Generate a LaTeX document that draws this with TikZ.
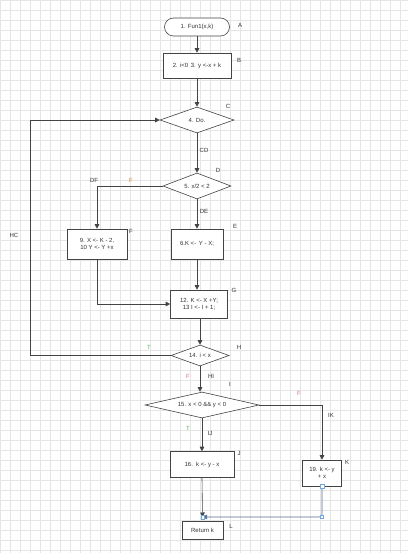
\documentclass[tikz,border=0pt]{standalone}
\usepackage{fontspec}
\setmainfont{Liberation Sans}
\usetikzlibrary{shapes.geometric,arrows.meta}
\definecolor{lineC}{HTML}{444444}
\definecolor{selC}{HTML}{5A6E8C}
\definecolor{handleC}{HTML}{6FA8DC}
\definecolor{fOrange}{HTML}{D9822B}
\definecolor{fPink}{HTML}{E06C8A}
\definecolor{tGreen}{HTML}{5CB85C}
\tikzset{
  every node/.style={font=\fontsize{6}{7}\selectfont, text=black!80},
  box/.style={draw=lineC, fill=white, rectangle, align=center, inner sep=1pt, line width=0.6pt},
  startbox/.style={box, rounded corners=9pt},
  dia/.style={diamond, draw=lineC, fill=white, inner sep=0pt, line width=0.6pt, aspect=2.8},
  lbl/.style={inner sep=0pt},
  arr/.style={draw=lineC, line width=0.6pt, -{Triangle[length=4.5pt,width=4.5pt]}},
  handle/.style={draw=handleC, fill=white, line width=0.4pt, minimum size=3.5pt, inner sep=0pt, rectangle}
}
\begin{document}
\begin{tikzpicture}[x=1pt,y=-1pt]
\useasboundingbox (0,0) rectangle (408,553);
\fill[white] (0,0) rectangle (408,553);
\draw[step=10pt, black!10, line width=0.35pt] (0,0) grid (408,553);

% nodes
\node[startbox, minimum width=65pt, minimum height=18pt] (A) at (197,27) {1. Fun1(x,k)};
\node[box, minimum width=68pt, minimum height=25pt] (B) at (197,65.5) {2. i<0\, 3. y <-x + k};
\node[dia, minimum width=74pt, minimum height=26pt] (C) at (197,120) {4. Do.};
\node[dia, minimum width=68pt, minimum height=26pt] (D) at (197,186) {5. x/2 < 2};
\node[box, minimum width=60pt, minimum height=30pt] (F) at (97,244) {9. X <- K - 2,\\ 10 Y <- Y +x};
\node[box, minimum width=52pt, minimum height=30pt] (E) at (197,244) {6.K <-\, Y - X;};
\node[box, minimum width=57pt, minimum height=28pt] (G) at (199,304) {12. K <- X +Y;\\ 13 I <- I + 1;};
\node[dia, minimum width=58pt, minimum height=21pt] (H) at (200,355.5) {14. i < x};
\node[dia, minimum width=114pt, minimum height=26pt] (I) at (202,405) {15. x < 0 \&\& y < 0};
\node[box, minimum width=64pt, minimum height=26pt] (J) at (202,464.5) {16.\, k <- y - x};
\node[box, minimum width=39pt, minimum height=26pt] (K) at (322,473) {19. k <- y\\ + x};
\node[box, minimum width=41pt, minimum height=18pt] (L) at (202.5,530) {Return k};
\coordinate (m) at (202.5,517);
\coordinate (loopA) at (30,355.5);
\coordinate (loopB) at (30,120);

% connectors
\draw[arr] (A) -- (B);
\draw[arr] (B) -- (C);
\draw[arr] (C) -- (D);
\draw[arr] (D) -- (E);
\draw[arr] (D.west) -| (F.north);
\draw[arr] (E) -- (E.south |- G.north);
\draw[arr] (F.south) |- (G.west);
\draw[arr] (G.south -| H.north) -- (H.north);
\draw[arr] (H.west) -- (loopA) -- (loopB) -- (C.west);
\draw[arr] (H.south) -- (H.south |- I.north);
\draw[arr] (I.east) -| (K.north);
\draw[arr] (I) -- (J);
\draw[arr] (J.south) -- (m);
\draw[draw=selC, line width=0.6pt, rounded corners=3pt, -{Triangle[length=4.5pt,width=4.5pt]}] (K.south) -- (K.south |- m) -- (m);
\node[handle] (h1) at (K.south) {};
\node[handle, minimum size=3pt] (h2) at (K.south |- m) {};
\node[handle] (h3) at (m) {};

% labels
\node[lbl] (lA) at (240,25) {A};
\node[lbl] (lB) at (239,60) {B};
\node[lbl] (lC) at (228,106) {C};
\node[lbl] (lCD) at (204,150) {CD};
\node[lbl] (lD) at (218,170) {D};
\node[lbl, text=fOrange] (lF1) at (131,180) {F};
\node[lbl] (lDF) at (94,180) {DF};
\node[lbl] (lDE) at (204,211) {DE};
\node[lbl] (lE) at (235,226) {E};
\node[lbl] (lF) at (131,231) {F};
\node[lbl] (lHC) at (14,235) {HC};
\node[lbl] (lG) at (234,290) {G};
\node[lbl, text=tGreen] (lT1) at (149,347) {T};
\node[lbl] (lH) at (239,347) {H};
\node[lbl, text=fPink] (lF2) at (188,376) {F};
\node[lbl] (lHI) at (211,376) {HI};
\node[lbl] (lI) at (230,384) {I};
\node[lbl, text=fPink] (lF3) at (299,393) {F};
\node[lbl] (lIK) at (331,415) {IK};
\node[lbl, text=tGreen] (lT2) at (188,428) {T};
\node[lbl] (lIJ) at (210,433) {IJ};
\node[lbl] (lJ) at (239,453) {J};
\node[lbl] (lK) at (347,462) {K};
\node[lbl] (lL) at (231,526) {L};
\end{tikzpicture}
\end{document}
